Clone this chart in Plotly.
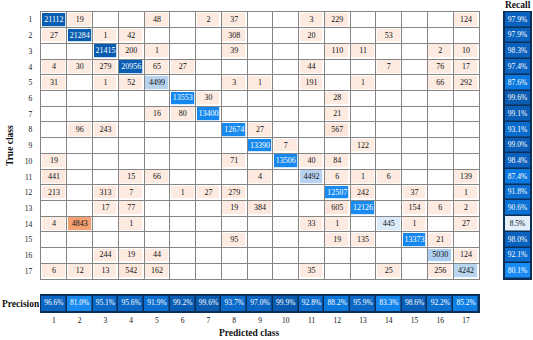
import math
import plotly.graph_objects as go

classes = list(range(1, 18))
tick_labels = [str(c) for c in classes]

cm = [
    [21112, 19, 0, 0, 48, 0, 2, 37, 0, 0, 3, 229, 0, 0, 0, 0, 124],
    [27, 21284, 1, 42, 0, 0, 0, 308, 0, 0, 20, 0, 0, 53, 0, 0, 0],
    [0, 0, 21415, 200, 1, 0, 0, 39, 0, 0, 0, 110, 11, 0, 0, 2, 10],
    [4, 30, 279, 20956, 65, 27, 0, 0, 0, 0, 44, 0, 0, 7, 0, 76, 17],
    [31, 0, 1, 52, 4499, 0, 0, 3, 1, 0, 191, 0, 1, 0, 0, 66, 292],
    [0, 0, 0, 0, 0, 13553, 30, 0, 0, 0, 0, 28, 0, 0, 0, 0, 0],
    [0, 0, 0, 0, 16, 80, 13400, 0, 0, 0, 0, 21, 0, 0, 0, 0, 0],
    [0, 96, 243, 0, 0, 0, 0, 12674, 27, 0, 0, 567, 0, 0, 0, 0, 0],
    [0, 0, 0, 0, 0, 0, 0, 0, 13390, 7, 0, 0, 122, 0, 0, 0, 0],
    [19, 0, 0, 0, 0, 0, 0, 71, 0, 13506, 40, 84, 0, 0, 0, 0, 0],
    [441, 0, 0, 15, 66, 0, 0, 0, 4, 0, 4492, 6, 1, 6, 0, 0, 139],
    [213, 0, 313, 7, 0, 1, 27, 279, 0, 0, 0, 12507, 242, 0, 37, 0, 1],
    [0, 0, 17, 77, 0, 0, 0, 19, 384, 0, 0, 605, 12126, 0, 154, 6, 2],
    [4, 4843, 0, 1, 0, 0, 0, 0, 0, 0, 33, 1, 0, 445, 1, 0, 27],
    [0, 0, 0, 0, 0, 0, 0, 95, 0, 0, 0, 19, 135, 0, 13373, 21, 0],
    [0, 0, 244, 19, 44, 0, 0, 0, 0, 0, 0, 0, 0, 0, 0, 5030, 124],
    [6, 12, 13, 542, 162, 0, 0, 0, 0, 0, 35, 0, 0, 25, 0, 256, 4242],
]

recall = [97.9, 97.9, 98.3, 97.4, 87.6, 99.6, 99.1, 93.1, 99.0, 98.4,
          87.4, 91.8, 90.6, 8.5, 98.0, 92.1, 80.1]
precision = [96.6, 81.0, 95.1, 95.6, 91.9, 99.2, 99.6, 93.7, 97.0, 99.9,
             92.8, 88.2, 95.9, 83.3, 98.6, 92.2, 85.2]

W, H = 533, 340
NAN = float("nan")
n = len(classes)

diag_z = [[cm[i][j] if (i == j and cm[i][j] > 0) else NAN for j in range(n)] for i in range(n)]
off_z = [[cm[i][j] if (i != j and cm[i][j] > 0) else NAN for j in range(n)] for i in range(n)]
diag_max = max(cm[i][i] for i in range(n))
off_max = max(cm[i][j] for i in range(n) for j in range(n) if i != j)

diag_scale = [[0, "#ffffff"], [0.02, "#dcebf9"], [0.21, "#b8d3ef"], [0.56, "#1a8cf0"],
              [0.65, "#1486ec"], [0.93, "#0a63bd"], [1, "#085caf"]]
off_scale = [[0, "#fdebe2"], [0.15, "#fce5da"], [1, "#f3a073"]]
pct_scale = [[0, "#ffffff"], [0.085, "#e2eefa"], [0.8, "#1a8cf5"], [0.88, "#0a78dc"],
             [0.92, "#0a6fd0"], [0.98, "#0a62bf"], [1, "#0a5aae"]]

SERIF = "Liberation Serif"
GRID = "#858585"
DARK = "#0d2f57"

fig = go.Figure()

# main matrix
fig.add_trace(go.Heatmap(x=classes, y=classes, z=off_z, colorscale=off_scale, zmin=0, zmax=off_max,
                         showscale=False, xgap=2.8, ygap=2.8, hoverinfo="skip", xaxis="x", yaxis="y"))
fig.add_trace(go.Heatmap(x=classes, y=classes, z=diag_z, colorscale=diag_scale, zmin=0, zmax=diag_max,
                         showscale=False, xgap=2.8, ygap=2.8, hoverinfo="skip", xaxis="x", yaxis="y"))

tx, ty, tt, tc = [], [], [], []
for i in range(n):
    for j in range(n):
        v = cm[i][j]
        if v > 0:
            tx.append(classes[j]); ty.append(classes[i]); tt.append(str(v))
            tc.append("#ffffff" if (i == j and v > 10000) else "#111111")
fig.add_trace(go.Scatter(x=tx, y=ty, text=tt, mode="text", textposition="middle center",
                         textfont=dict(family=SERIF, size=8, color=tc), hoverinfo="skip",
                         showlegend=False, xaxis="x", yaxis="y"))

# recall column
fig.add_trace(go.Heatmap(x=[1], y=classes, z=[[1] for _ in classes], colorscale=[[0, DARK], [1, DARK]],
                         showscale=False, hoverinfo="skip", xaxis="x2", yaxis="y2"))
fig.add_trace(go.Heatmap(x=[1], y=classes, z=[[r] for r in recall], colorscale=pct_scale, zmin=0, zmax=100,
                         showscale=False, xgap=2, ygap=1.5, hoverinfo="skip", xaxis="x2", yaxis="y2"))
fig.add_trace(go.Scatter(x=[1] * n, y=classes, text=[f"{r:.1f}%" for r in recall], mode="text",
                         textfont=dict(family=SERIF, size=7.5, color=["#ffffff" if r > 50 else "#111111" for r in recall]),
                         hoverinfo="skip", showlegend=False, xaxis="x2", yaxis="y2"))

# precision row
fig.add_trace(go.Heatmap(x=classes, y=[1], z=[[1] * n], colorscale=[[0, DARK], [1, DARK]],
                         showscale=False, hoverinfo="skip", xaxis="x3", yaxis="y3"))
fig.add_trace(go.Heatmap(x=classes, y=[1], z=[precision], colorscale=pct_scale, zmin=0, zmax=100,
                         showscale=False, xgap=1.5, ygap=2, hoverinfo="skip", xaxis="x3", yaxis="y3"))
fig.add_trace(go.Scatter(x=classes, y=[1] * n, text=[f"{p:.1f}%" for p in precision], mode="text",
                         textfont=dict(family=SERIF, size=7.5, color=["#ffffff" if p > 50 else "#111111" for p in precision]),
                         hoverinfo="skip", showlegend=False, xaxis="x3", yaxis="y3"))

mx0, mx1 = 41 / W, 479 / W
my0, my1 = 1 - 279 / H, 1 - 12 / H
rx0, rx1 = 504 / W, 531 / W
py0, py1 = 1 - 312 / H, 1 - 295 / H

grid_minor = dict(tickmode="linear", tick0=0.5, dtick=1, showgrid=True, gridcolor=GRID, gridwidth=1.4, ticks="")

fig.update_layout(
    width=W, height=H, margin=dict(l=0, r=0, t=0, b=0),
    paper_bgcolor="white", plot_bgcolor="white", showlegend=False,
    xaxis=dict(domain=[mx0, mx1], range=[0.5, n + 0.5], showgrid=False, zeroline=False,
               showticklabels=False, ticks="", minor=grid_minor,
               showline=True, mirror=True, linecolor=GRID, linewidth=1.4, fixedrange=True),
    yaxis=dict(domain=[my0, my1], range=[n + 0.5, 0.5], showgrid=False, zeroline=False,
               tickmode="array", tickvals=classes, ticktext=tick_labels, ticks="",
               tickfont=dict(family=SERIF, size=7.5, color="#111"), ticklabelstandoff=6,
               minor=grid_minor, showline=True, mirror=True, linecolor=GRID, linewidth=1.4, fixedrange=True),
    xaxis2=dict(domain=[rx0, rx1], range=[0.5, 1.5], showgrid=False, zeroline=False, showticklabels=False,
                ticks="", showline=True, mirror=True, linecolor=DARK, linewidth=1, anchor="y2", fixedrange=True),
    yaxis2=dict(domain=[my0, my1], range=[n + 0.5, 0.5], showgrid=False, zeroline=False, showticklabels=False,
                ticks="", showline=True, mirror=True, linecolor=DARK, linewidth=1, anchor="x2", fixedrange=True),
    xaxis3=dict(domain=[mx0, mx1], range=[0.5, n + 0.5], showgrid=False, zeroline=False,
                tickmode="array", tickvals=classes, ticktext=tick_labels, ticks="",
                tickfont=dict(family=SERIF, size=7.5, color="#111"), ticklabelstandoff=1,
                showline=True, mirror=True, linecolor=DARK, linewidth=1, anchor="y3", fixedrange=True),
    yaxis3=dict(domain=[py0, py1], range=[0.5, 1.5], showgrid=False, zeroline=False, showticklabels=False,
                ticks="", showline=True, mirror=True, linecolor=DARK, linewidth=1, anchor="x3", fixedrange=True),
)

title_font = dict(family=SERIF, size=9.5, color="#111")
common = dict(xref="paper", yref="paper", showarrow=False, font=title_font, xanchor="center", yanchor="middle")
fig.add_annotation(text="<b>True class</b>", x=10 / W, y=1 - 146 / H, textangle=-90, **common)
fig.add_annotation(text="<b>Predicted class</b>", x=249 / W, y=1 - 333 / H, **common)
fig.add_annotation(text="<b>Recall</b>", x=518 / W, y=1 - 5 / H, **common)
fig.add_annotation(text="<b>Precision</b>", x=21 / W, y=1 - 304 / H, **common)

fig.write_html("out.html")
